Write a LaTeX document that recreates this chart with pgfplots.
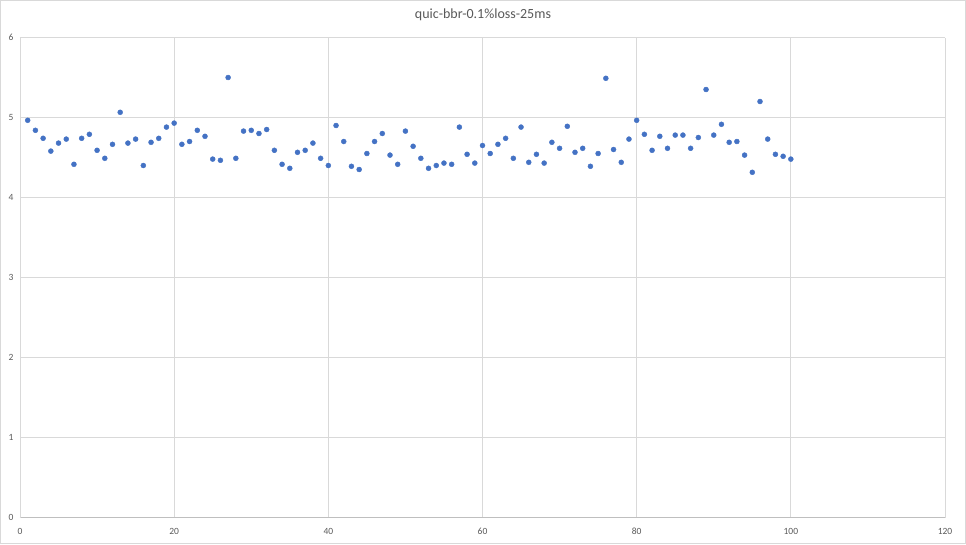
\documentclass[border=0pt]{standalone}
\usepackage{pgfplots}
\pgfplotsset{compat=1.18}
\usepackage{fontspec}
\setmainfont{Carlito}
\definecolor{gridc}{HTML}{D9D9D9}
\definecolor{axc}{HTML}{BFBFBF}
\definecolor{txtc}{HTML}{595959}
\definecolor{ptc}{HTML}{4472C4}
\begin{document}
\begin{tikzpicture}[x=1pt,y=1pt]
\useasboundingbox (0,0) rectangle (966,544);
\draw[gridc, line width=0.8pt] (0.4,0.4) rectangle (965.6,543.6);
\node[txtc, font=\fontsize{14}{16}\selectfont] at (483,529) {quic-bbr-0.1\%loss-25ms};
\begin{axis}[
  at={(20pt,26.5pt)}, anchor=south west,
  scale only axis, width=925pt, height=480pt,
  xmin=0, xmax=120, ymin=0, ymax=6,
  xtick={0,20,...,120}, ytick={0,1,...,6},
  major tick length=0pt,
  grid=major, grid style={gridc, line width=0.75pt},
  axis lines=left,
  x axis line style={axc, line width=0.9pt, -},
  y axis line style={gridc, line width=0.75pt, -},
  tick label style={txtc, font=\fontsize{9.5}{11}\selectfont},
  /pgf/number format/assume math mode=true,
  xticklabel style={yshift=-7pt},
  yticklabel style={xshift=-3pt},
  clip=false,
]
\addplot[only marks, mark=*, mark size=2.5pt, mark options={draw=ptc, fill=ptc}] coordinates {
(1,4.965)(2,4.84)(3,4.74)(4,4.58)(5,4.68)(6,4.73)(7,4.415)(8,4.74)(9,4.79)(10,4.59)
(11,4.49)(12,4.665)(13,5.065)(14,4.68)(15,4.73)(16,4.40)(17,4.69)(18,4.74)(19,4.88)(20,4.93)
(21,4.665)(22,4.70)(23,4.84)(24,4.765)(25,4.48)(26,4.465)(27,5.50)(28,4.49)(29,4.83)(30,4.84)
(31,4.80)(32,4.85)(33,4.59)(34,4.415)(35,4.365)(36,4.565)(37,4.59)(38,4.68)(39,4.49)(40,4.40)
(41,4.90)(42,4.70)(43,4.39)(44,4.35)(45,4.55)(46,4.70)(47,4.80)(48,4.53)(49,4.415)(50,4.83)
(51,4.64)(52,4.49)(53,4.365)(54,4.40)(55,4.43)(56,4.415)(57,4.88)(58,4.54)(59,4.43)(60,4.65)
(61,4.55)(62,4.665)(63,4.74)(64,4.49)(65,4.88)(66,4.44)(67,4.54)(68,4.43)(69,4.69)(70,4.615)
(71,4.89)(72,4.565)(73,4.615)(74,4.39)(75,4.55)(76,5.49)(77,4.60)(78,4.44)(79,4.73)(80,4.965)
(81,4.79)(82,4.59)(83,4.765)(84,4.615)(85,4.78)(86,4.78)(87,4.615)(88,4.75)(89,5.35)(90,4.78)
(91,4.915)(92,4.69)(93,4.70)(94,4.53)(95,4.315)(96,5.20)(97,4.73)(98,4.54)(99,4.515)(100,4.48)
};
\end{axis}
\end{tikzpicture}
\end{document}
